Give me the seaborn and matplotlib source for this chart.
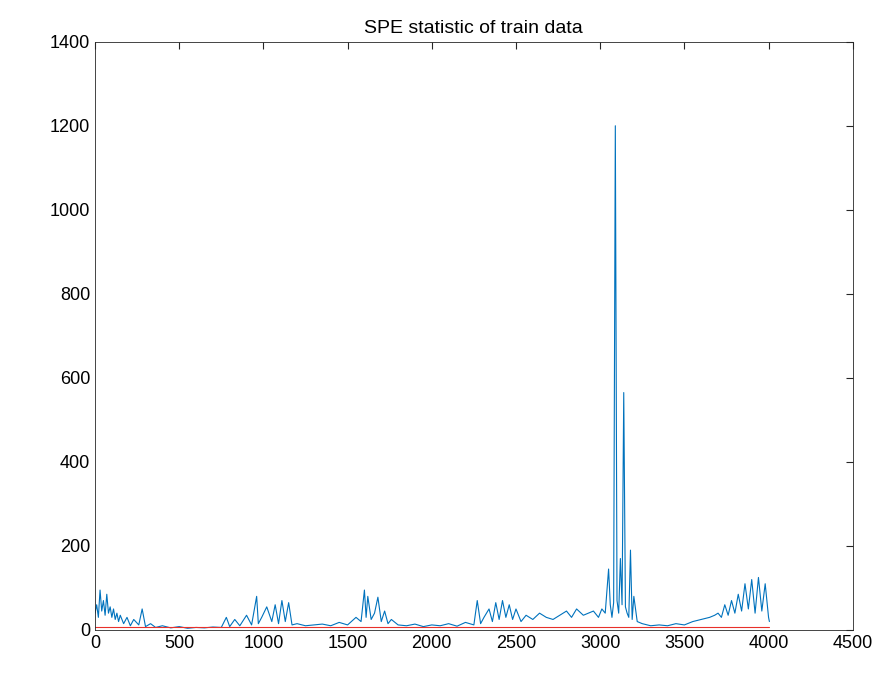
import matplotlib
matplotlib.use("Agg")
import matplotlib.pyplot as plt
import seaborn as sns

sample_idx = [0,10,20,30,40,50,60,70,80,90,100,110,120,130,140,150,170,190,210,230,260,280,300,330,360,400,450,500,550,600,650,700,750,780,800,830,860,900,930,960,970,990,1020,1050,1070,1090,1110,1130,1150,1170,1200,1250,1300,1350,1400,1450,1500,1550,1580,1600,1610,1620,1640,1660,1680,1700,1720,1740,1760,1800,1850,1900,1950,2000,2050,2100,2150,2200,2250,2270,2290,2310,2340,2360,2380,2400,2420,2440,2460,2480,2500,2530,2560,2600,2640,2680,2720,2760,2800,2830,2860,2900,2930,2960,2990,3010,3030,3050,3060,3070,3080,3090,3100,3110,3120,3130,3140,3150,3160,3170,3180,3190,3200,3220,3250,3300,3350,3400,3450,3500,3550,3600,3650,3680,3700,3720,3740,3760,3780,3800,3820,3840,3860,3880,3900,3920,3940,3960,3980,4000,4005]
spe_values = [40,60,30,95,45,70,35,85,40,55,30,50,25,40,20,35,15,30,10,25,12,50,8,15,6,10,5,8,4,6,5,7,6,30,8,25,10,35,12,80,15,30,55,20,60,15,70,20,65,12,15,10,12,14,10,18,12,30,20,95,30,80,25,40,78,20,45,15,25,12,10,14,8,12,10,15,9,18,12,70,15,30,50,20,65,25,70,30,60,25,50,20,35,25,40,30,25,35,45,30,50,35,40,45,30,50,40,145,60,30,65,1200,70,40,170,60,565,55,40,30,190,25,80,20,15,10,12,10,15,12,20,25,30,35,40,30,60,35,70,40,85,45,110,50,120,40,125,45,110,30,20]
threshold = [8, 8]
threshold_idx = [0, 4005]

sns.set_style("white")
plt.rcParams["font.family"] = "Liberation Sans"
fig = plt.figure(figsize=(8.92, 6.84), dpi=100)
ax = fig.add_axes([0.1065, 0.079, 0.8495, 0.86])
sns.lineplot(x=sample_idx, y=spe_values, ax=ax, color="#0072BD", linewidth=0.8)
sns.lineplot(x=threshold_idx, y=threshold, ax=ax, color="#E8302A", linewidth=0.8)
ax.set_xlim(0, 4500)
ax.set_ylim(0, 1400)
ax.set_xticks(range(0, 4501, 500))
ax.set_yticks(range(0, 1401, 200))
ax.tick_params(direction="in", top=True, right=True, labelsize=13, length=5, colors="#262626", labelcolor="black")
for s in ax.spines.values():
    s.set_linewidth(0.6)
    s.set_color("#262626")
ax.set_title("SPE statistic of train data", fontsize=14, color="black")
fig.savefig("out.png", dpi=100)
